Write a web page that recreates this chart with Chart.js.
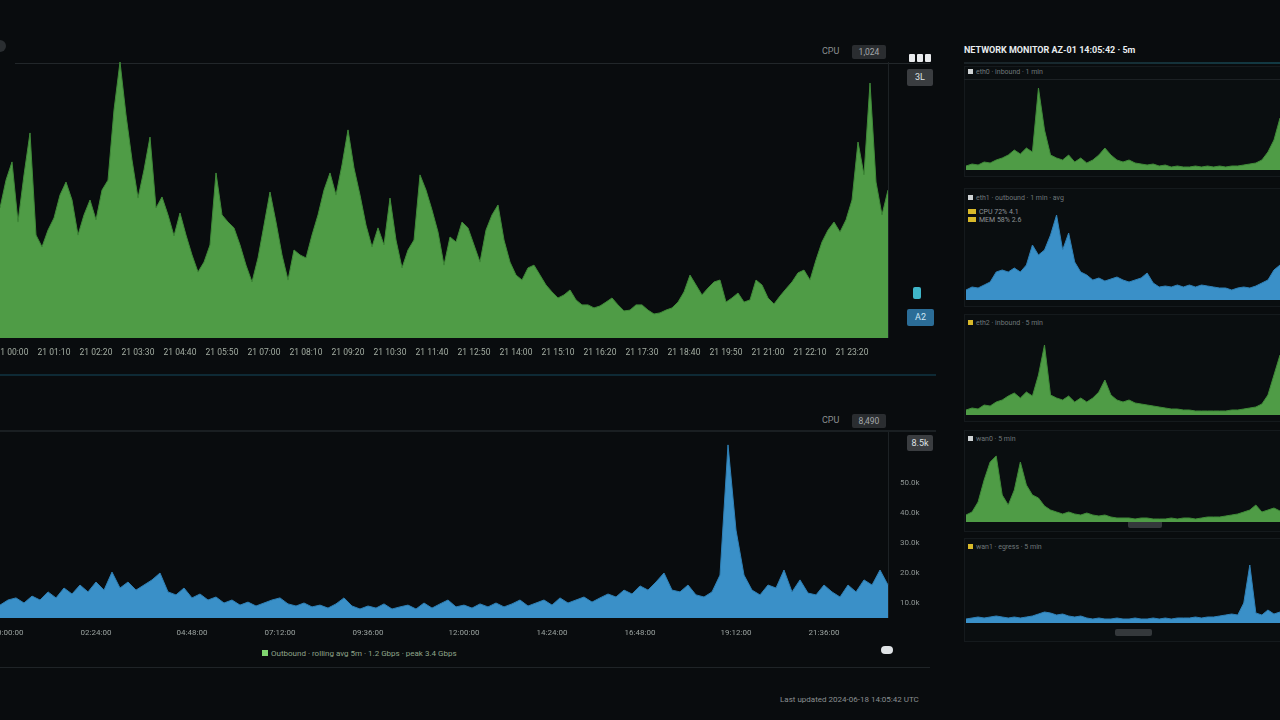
<!DOCTYPE html>
<html><head><meta charset="utf-8">
<script src="https://cdn.jsdelivr.net/npm/chart.js@4.4.1/dist/chart.umd.min.js"></script>
<style>
html,body{margin:0;padding:0;background:#090c0e;width:1280px;height:720px;overflow:hidden;font-family:Roboto,"DejaVu Sans",sans-serif;}
.a{position:absolute;}
.box{position:absolute;background:#2a2d30;color:#a4a8aa;font-size:8.5px;line-height:14px;text-align:center;border-radius:2px;}
.panel{position:absolute;left:964px;width:330px;border:1px solid #151a1d;background:#0a0e10;}
.ptitle{position:absolute;left:968px;font-size:7px;color:#6f777a;white-space:nowrap;}
.line{position:absolute;height:1px;}
</style></head><body>

<!-- decorations -->
<div class="a" style="left:-6px;top:40px;width:12px;height:12px;border-radius:6px;background:#2a2e31"></div>
<div class="line" style="left:15px;top:63px;width:915px;background:#22272a"></div>
<div class="line" style="left:0;top:374px;width:936px;height:2px;background:#0e2a35"></div>
<div class="line" style="left:0;top:430px;width:936px;height:2px;background:#1a1f22"></div>
<div class="line" style="left:0;top:667px;width:930px;background:#1f2427"></div>
<div class="a" style="left:888px;top:62px;width:1px;height:276px;background:#1d2225"></div>
<div class="a" style="left:888px;top:432px;width:1px;height:186px;background:#1d2225"></div>

<div class="a" style="left:822px;top:46px;font-size:9px;color:#8b8f91">CPU</div>
<div class="box" style="left:852px;top:45px;width:34px;height:14px">1,024</div>
<div class="a" style="left:909px;top:47px;">
  <span style="display:inline-block;width:6px;height:8px;background:#e8eaec;border-radius:1px;margin-right:2px"></span><span style="display:inline-block;width:6px;height:8px;background:#e8eaec;border-radius:1px;margin-right:2px"></span><span style="display:inline-block;width:6px;height:8px;background:#e8eaec;border-radius:1px"></span>
</div>
<div class="box" style="left:907px;top:69px;width:26px;height:17px;line-height:17px;background:#3a3d40;color:#dfe2e4;font-size:9px">3L</div>
<div class="a" style="left:913px;top:287px;width:8px;height:12px;border-radius:2px;background:#3fb6c9"></div>
<div class="box" style="left:907px;top:309px;width:27px;height:17px;line-height:17px;background:#2b6d97;color:#cfe7f5;font-size:9px">A2</div>

<div class="a" style="left:822px;top:415px;font-size:9px;color:#8b8f91">CPU</div>
<div class="box" style="left:852px;top:414px;width:34px;height:14px">8,490</div>
<div class="box" style="left:907px;top:435px;width:26px;height:16px;line-height:16px;background:#3a3d40;color:#dfe2e4;font-size:9px">8.5k</div>

<div class="a" style="left:262px;top:649px;font-size:8px;color:#8fa58a;white-space:nowrap"><span style="display:inline-block;width:6px;height:6px;background:#7fd46f;margin-right:3px"></span>Outbound · rolling avg 5m · 1.2 Gbps · peak 3.4 Gbps</div>
<div class="a" style="left:881px;top:646px;width:12px;height:8px;border-radius:4px;background:#dfe3e6"></div>
<div class="a" style="left:780px;top:695px;font-size:8px;color:#8a8f91;white-space:nowrap">Last updated 2024-06-18 14:05:42 UTC</div>

<!-- right column -->
<div class="a" style="left:964px;top:45px;font-size:9px;font-weight:bold;color:#e8ecee;white-space:nowrap">NETWORK MONITOR AZ-01 14:05:42 · 5m</div>
<div class="line" style="left:964px;top:62px;width:316px;height:2px;background:linear-gradient(90deg,#1a2226,#123a44)"></div>

<div class="panel" style="top:66px;height:109px"></div>
<div class="ptitle" style="top:68px"><span style="display:inline-block;width:5px;height:5px;background:#cfd3d5;margin-right:3px"></span>eth0 · inbound · 1 min</div>
<div class="line" style="left:964px;top:79px;width:316px;background:#1c2124"></div>

<div class="panel" style="top:188px;height:117px"></div>
<div class="ptitle" style="top:194px"><span style="display:inline-block;width:5px;height:5px;background:#cfd3d5;margin-right:3px"></span>eth1 · outbound · 1 min · avg</div>
<div class="ptitle" style="top:208px;color:#8d9396"><span style="display:inline-block;width:8px;height:5px;background:#d8b92a;margin-right:3px"></span>CPU 72% 4.1</div>
<div class="ptitle" style="top:216px;color:#8d9396"><span style="display:inline-block;width:8px;height:5px;background:#d8b92a;margin-right:3px"></span>MEM 58% 2.6</div>

<div class="panel" style="top:314px;height:106px"></div>
<div class="ptitle" style="top:319px"><span style="display:inline-block;width:5px;height:5px;background:#d8b92a;margin-right:3px"></span>eth2 · inbound · 5 min</div>

<div class="panel" style="top:430px;height:100px"></div>
<div class="ptitle" style="top:435px"><span style="display:inline-block;width:5px;height:5px;background:#cfd3d5;margin-right:3px"></span>wan0 · 5 min</div>
<div class="box" style="left:1128px;top:520px;width:34px;height:8px;background:#34383b"></div>

<div class="panel" style="top:538px;height:102px"></div>
<div class="ptitle" style="top:543px"><span style="display:inline-block;width:5px;height:5px;background:#d8b92a;margin-right:3px"></span>wan1 · egress · 5 min</div>
<div class="box" style="left:1115px;top:629px;width:37px;height:7px;background:#34383b"></div>

<!-- charts -->
<div class="a" style="left:0;top:62px;width:888px;height:300px"><canvas id="cMainGreen"></canvas></div>
<div class="a" style="left:0;top:432px;width:940px;height:210px"><canvas id="cMainBlue"></canvas></div>
<div class="a" style="left:966px;top:80px;width:314px;height:90px"><canvas id="cP1"></canvas></div>
<div class="a" style="left:966px;top:192px;width:314px;height:108px"><canvas id="cP2"></canvas></div>
<div class="a" style="left:966px;top:330px;width:314px;height:85px"><canvas id="cP3"></canvas></div>
<div class="a" style="left:966px;top:447px;width:314px;height:75px"><canvas id="cP4"></canvas></div>
<div class="a" style="left:966px;top:555px;width:314px;height:68px"><canvas id="cP5"></canvas></div>

<script>
// ---------- data ----------
const greenMain = [47.1,57.2,63.8,42.0,59.1,74.3,37.3,33.0,39.1,43.5,
51.8,56.5,50.0,37.3,44.6,50.0,42.8,53.6,57.2,82.6,
100,80.8,64.5,50.7,60.9,72.8,47.1,51.1,44.6,37.0,
45.3,37.3,30.1,23.9,27.5,33.7,59.8,44.6,42.0,39.9,
33.7,26.4,20.3,29.0,40.9,52.9,42.0,30.1,21.0,31.9,
30.1,29.0,37.3,44.6,53.6,59.8,51.8,62.7,75.4,61.6,
51.8,40.9,33.0,39.9,33.7,50.7,35.5,25.4,31.9,35.5,
59.1,53.6,46.4,38.4,26.4,36.6,34.8,42.0,39.9,33.7,
27.5,39.1,44.6,48.2,35.5,27.5,22.8,21.0,25.4,26.4,
22.8,19.2,16.7,14.5,15.6,17.4,13.8,12.0,12.0,10.9,
11.6,13.0,14.5,12.0,9.8,10.1,12.0,12.0,10.1,8.7,
9.1,10.1,10.9,13.0,16.7,22.8,19.2,15.6,18.1,20.3,
21.0,13.0,14.5,16.3,13.0,13.8,21.0,19.2,14.5,12.3,
15.2,17.8,20.3,23.6,24.6,21.0,28.3,34.8,39.1,42.0,
38.4,42.8,50.0,71.0,59.1,92.4,56.5,44.6,53.6];

const blueMain = [9.3,11,11.7,10,12.3,11,13.7,11.7,15,13,
16,13.7,17,14.3,20.3,15,17,14.3,16,17.7,
20,13.7,12.7,15,11.7,13,11,12,10,11,
9.3,10.3,9,10,11,11.7,9.7,9,10,8.7,
9.3,8.3,9.7,11.7,9,8,9,8.3,9.7,8,
8.7,9.3,8,10,8.3,9.7,11,8.7,9.3,8.3,
9.7,8.7,10,8.7,9.7,11,9,10,11,9.3,
11.7,10,11,12,10.3,11.7,13,12,14.3,13,
15.7,14.3,17,20,14.3,13.7,16,12.7,12,13.7,
19.3,62.7,34.3,19.3,14.3,12.7,16,15,21,13.7,
17.7,13.3,12.7,16,13.7,12,16,13.7,17.7,16,
21,16];

const panel1Green = [4,6,5,8,7,10,12,15,20,16,22,18,82,40,15,12,10,15,8,12,7,10,15,22,15,10,8,10,7,6,5,6,4,5,3,4,3,3,4,3,4,3,4,3,4,4,5,6,7,10,18,30,52];
const panel2Blue = [10,13,12,15,18,28,30,28,32,28,35,55,45,50,65,85,50,67,38,28,25,20,22,19,21,23,20,18,20,22,27,17,13,14,13,15,13,15,13,15,14,13,12,12,10,12,13,12,14,17,20,30,35];
const panel3Green = [5,7,6,10,9,13,15,19,22,17,23,19,40,70,20,17,15,19,13,17,13,17,23,35,20,15,13,15,12,11,10,9,8,7,6,6,5,5,4,4,4,4,4,4,5,5,6,7,8,11,20,40,60];
const panel4Green = [7,10,20,42,60,66,27,17,32,60,37,27,24,16,12,10,8,10,8,7,9,7,6,7,5,4,4,4,3,4,4,3,3,3,4,3,4,4,3,4,5,5,5,6,7,8,10,12,17,10,12,14,11];
const panel5Blue = [4,5,6,5,6,7,6,5,6,5,6,7,9,11,10,8,9,7,6,7,5,4,5,4,4,5,4,4,5,4,4,5,4,5,4,5,5,5,6,5,6,6,7,8,9,8,20,58,10,8,13,9,11];

const topTickLabels = ["21 00:00","21 01:10","21 02:20","21 03:30","21 04:40","21 05:50","21 07:00","21 08:10","21 09:20","21 10:30","21 11:40","21 12:50","21 14:00","21 15:10","21 16:20","21 17:30","21 18:40","21 19:50","21 21:00","21 22:10","21 23:20"];
const bottomTickLabels = ["00:00:00","02:24:00","04:48:00","07:12:00","09:36:00","12:00:00","14:24:00","16:48:00","19:12:00","21:36:00"];
const blueAxisValues = [10,20,30,40,50];
const blueAxisLabels = ["10.0k","20.0k","30.0k","40.0k","50.0k"];

// ---------- helpers ----------
Chart.defaults.font.family = 'Roboto, "DejaVu Sans", sans-serif';
const GREEN = '#4f9c46', GREEN_B = '#3f8a38';
const BLUE = '#3a90c8', BLUE_B = '#2f80b6';

const topTickMap = {};
topTickLabels.forEach((l, k) => { topTickMap[2 + k * 7] = l; });
const bottomTickMap = {};
bottomTickLabels.forEach((l, k) => { bottomTickMap[Math.round(1 + k * 11.35)] = l; });

function ds(values, fill, border) {
  return { data: values, fill: 'origin', backgroundColor: fill, borderColor: border, borderWidth: 1, pointRadius: 0, tension: 0 };
}
function baseOpts(scales) {
  return {
    responsive: true, maintainAspectRatio: false, animation: false, events: [],
    layout: { padding: 0, autoPadding: false },
    plugins: { legend: { display: false }, tooltip: { enabled: false } },
    scales: scales
  };
}
function small(id, values, fill, border, max) {
  new Chart(document.getElementById(id), {
    type: 'line',
    data: { labels: values.map((_, i) => i), datasets: [ds(values, fill, border)] },
    options: baseOpts({ x: { display: false, offset: false }, y: { display: false, min: 0, max: max } })
  });
}
function fixX(s) { s.height = 24; s.paddingLeft = 0; s.paddingRight = 0; }

// main green
new Chart(document.getElementById('cMainGreen'), {
  type: 'line',
  data: { labels: greenMain.map((_, i) => i), datasets: [ds(greenMain, GREEN, GREEN_B)] },
  options: baseOpts({
    x: { offset: false, grid: { display: false, drawTicks: false }, border: { display: false },
         ticks: { autoSkip: false, maxRotation: 0, padding: 10, color: '#a3ada2', font: { size: 8.5 },
                  callback: (v, i) => topTickMap[i] ?? '' },
         afterFit: fixX },
    y: { display: false, min: 0, max: 100 }
  })
});

// main blue
new Chart(document.getElementById('cMainBlue'), {
  type: 'line',
  data: { labels: blueMain.map((_, i) => i), datasets: [ds(blueMain, BLUE, BLUE_B)] },
  options: baseOpts({
    x: { offset: false, grid: { display: false, drawTicks: false }, border: { display: false },
         ticks: { autoSkip: false, maxRotation: 0, padding: 10, color: '#9ba3a0', font: { size: 8 },
                  callback: (v, i) => bottomTickMap[i] ?? '' },
         afterFit: fixX },
    y: { position: 'right', min: 5, max: 67, grid: { display: false, drawTicks: false }, border: { display: false },
         afterBuildTicks: s => { s.ticks = blueAxisValues.map(v => ({ value: v })); },
         ticks: { padding: 12, color: '#8d9493', font: { size: 8 },
                  callback: v => blueAxisLabels[blueAxisValues.indexOf(v)] },
         afterFit: s => { s.width = 52; s.paddingTop = 0; s.paddingBottom = 0; } }
  })
});

small('cP1', panel1Green, GREEN, GREEN_B, 90);
small('cP2', panel2Blue, BLUE, BLUE_B, 108);
small('cP3', panel3Green, GREEN, GREEN_B, 85);
small('cP4', panel4Green, GREEN, GREEN_B, 75);
small('cP5', panel5Blue, BLUE, BLUE_B, 68);
</script>
</body></html>
